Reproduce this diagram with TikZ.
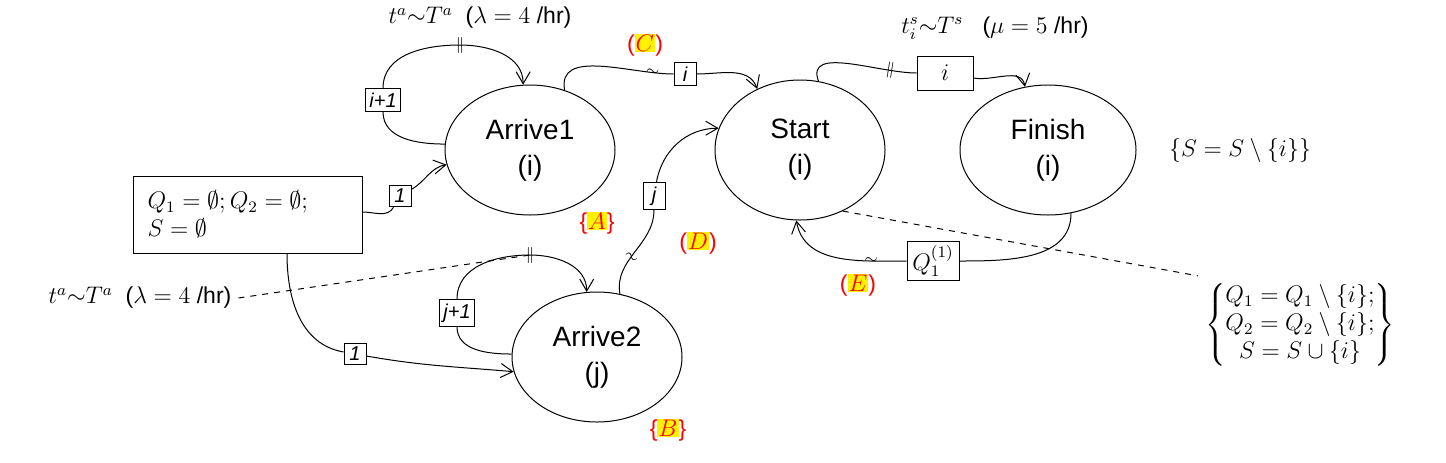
\documentclass[tikz,border=0pt]{standalone}
\usepackage{amsmath,amssymb}
\usepackage{fontspec}
\setmainfont{Liberation Sans}
\usetikzlibrary{shapes.geometric,arrows.meta}
\tikzset{>={Straight Barb[length=6pt,width=7pt]},
  state/.style={draw,ellipse,font=\fontsize{14}{16}\selectfont,align=center,inner sep=0pt},
  tok/.style={draw,fill=white,font=\itshape\fontsize{10}{11}\selectfont,inner sep=2pt,minimum width=11pt},
  lbl/.style={font=\fontsize{11.5}{14}\selectfont},
  dbl/.style={sloped,inner sep=0pt,font=\fontsize{8}{8}\selectfont},
}
\newcommand{\hl}[1]{{\setlength\fboxsep{0.5pt}\colorbox{yellow}{\textcolor{red}{$#1$}}}}
\newcommand{\rd}[1]{\textcolor{red}{#1}}
\begin{document}
\begin{tikzpicture}[x=0.5pt,y=-0.5pt,line width=0.5pt]
\useasboundingbox (0,0) rectangle (1446,462);
% states
\node[state,minimum width=85pt,minimum height=65pt] (a1) at (530,150) {Arrive1\\[2pt](i)};
\node[state,minimum width=85pt,minimum height=70pt] (st) at (800,150) {Start\\[2pt](i)};
\node[state,minimum width=88pt,minimum height=65pt] (fi) at (1048,150) {Finish\\[2pt](i)};
\node[state,minimum width=85pt,minimum height=65pt] (a2) at (597,357) {Arrive2\\[2pt](j)};
\node[draw,minimum width=114.5pt,minimum height=38.5pt,align=left,lbl,inner sep=6pt,text width=100pt] (init) at (247.5,214.5)
  {$Q_1=\emptyset; Q_2=\emptyset;$\\$S=\emptyset$};
% tokens
\node[tok] (ip1) at (383,100) {i+1};
\node[tok] (one1) at (400,196) {1};
\node[tok] (ia) at (685,74) {i};
\node[tok] (jb) at (654,196) {j};
\node[tok] (jp1) at (457,313) {j+1};
\node[tok] (one2) at (355,354) {1};
\node[tok,minimum width=28pt,minimum height=17pt,font=\fontsize{12}{13}\selectfont] (is) at (945,73) {$i$};
\node[tok,minimum width=26pt,minimum height=18pt,font=\fontsize{12}{13}\selectfont] (q) at (933,261) {$Q_1^{(1)}$};
\coordinate (top1) at (460,45);
\coordinate (top2) at (530,255);
% labels
\node[lbl] (la1) at (480,18) {$t^a{\sim}T^a$\ \ ($\lambda=4$ /hr)};
\node[lbl] (la2) at (140,298) {$t^a{\sim}T^a$\ \ ($\lambda=4$ /hr)};
\node[lbl] (ls) at (995,28) {$t_i^s{\sim}T^s$\ \ \ ($\mu=5$ /hr)};
\node[lbl] (lc) at (645,45) {\rd{(}\hl{C}\rd{)}};
\node[lbl] (ld) at (698,243) {\rd{(}\hl{D}\rd{)}};
\node[lbl] (le) at (858,285) {\rd{(}\hl{E}\rd{)}};
\node[lbl] (lA) at (597,223) {\rd{\{}\hl{A}\rd{\}}};
\node[lbl] (lB) at (668,430) {\rd{\{}\hl{B}\rd{\}}};
\node[font=\fontsize{13}{15}\selectfont] (fs) at (1240,150) {$\{S=S\setminus\{i\}\}$};
\node[lbl] (ss) at (1300,325) {$\begin{Bmatrix} Q_1=Q_1\setminus\{i\};\\ Q_2=Q_2\setminus\{i\};\\ S=S\cup\{i\}\end{Bmatrix}$};
% arrive1 loop
\draw (a1.176) to[out=180,in=-90] (ip1);
\draw[->] (ip1) to[out=90,in=180] (top1) to[out=0,in=90] (a1.96);
\node[dbl] at (top1) {$\|$};
\draw (init.east |- 0,212) to[out=0,in=-120] (one1);
\draw[->] (one1) to[out=30,in=190] (a1.190);
% arrive1 -> start
\draw (a1.60) to[out=100,in=180] node[dbl,pos=0.85]{$\sim$} (ia);
\draw[->] (ia) to[out=0,in=110] (st.125);
% arrive2 -> start
\draw (a2.70) to[out=100,in=-90] node[dbl,pos=0.45,rotate=90]{$\sim$} (jb);
\draw[->] (jb) to[out=80,in=180] (st.165);
% arrive2 loop
\draw (a2.178) to[out=180,in=-90] (jp1);
\draw[->] (jp1) to[out=90,in=180] (top2) to[out=0,in=90] (a2.99);
\node[dbl] at (top2) {$\|$};
% init -> arrive2
\draw (init.south -| 287,0) to[out=-90,in=170] (one2);
\draw[->] (one2) to[out=-10,in=175] (a2.190);
% start -> finish
\draw (st.75) to[out=110,in=180] node[dbl,pos=0.8]{$\|$} (is);
\draw[->] (is) to[out=-10,in=100] (fi.110);
% finish -> start
\draw (fi.-70) to[out=-90,in=0] (q);
\draw[->] (q) to[out=180,in=-80] node[dbl,pos=0.25]{$\sim$} (st.-93);
% dashed
\draw[dashed] (la2.east) -- (top2);
\draw[dashed] (st.-55) -- (ss.north west);
\end{tikzpicture}
\end{document}
